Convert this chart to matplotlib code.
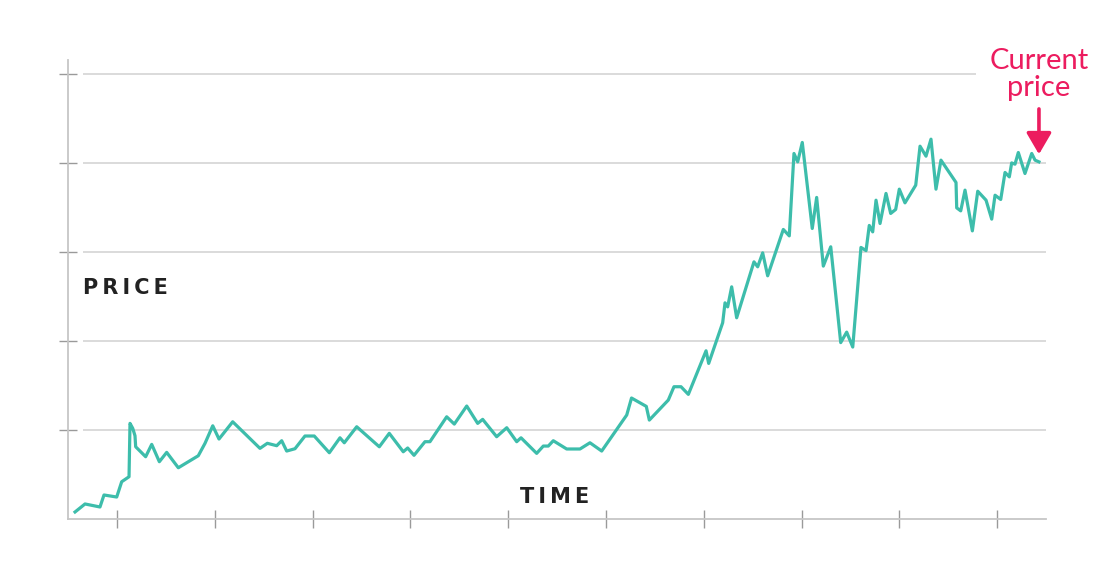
import matplotlib
matplotlib.use("Agg")
import matplotlib.pyplot as plt

# price history (time 0-100, price 0-50)
time = [0.72, 1.74, 3.27, 3.68, 4.98, 5.49, 6.24, 6.34, 6.62, 6.85, 6.92, 7.94, 8.56, 9.34,
        10.09, 11.28, 13.32, 14.01, 14.80, 15.44, 16.84, 19.63, 20.38, 21.34, 21.85, 22.36,
        23.21, 24.23, 25.18, 26.72, 27.81, 28.25, 29.52, 31.83, 32.85, 34.28, 34.73, 35.38,
        36.50, 37.01, 38.72, 39.50, 40.77, 41.89, 42.40, 43.83, 44.86, 45.88, 46.32, 47.92,
        48.60, 49.11, 49.62, 50.99, 52.35, 53.37, 54.57, 57.13, 57.62, 59.13, 59.44, 61.38,
        61.96, 62.68, 63.43, 65.24, 65.51, 66.94, 67.18, 67.45, 67.86, 68.37, 70.14, 70.52,
        71.03, 71.54, 73.14, 73.75, 74.23, 74.61, 75.08, 76.10, 76.55, 77.23, 77.99, 79.01,
        79.62, 80.24, 81.08, 81.60, 81.93, 82.28, 82.62, 83.03, 83.64, 84.12, 84.63, 85.00,
        85.58, 86.68, 87.12, 87.73, 88.24, 88.75, 89.26, 90.80, 90.87, 91.28, 91.72, 92.47,
        93.02, 93.87, 94.45, 94.79, 95.37, 95.81, 96.25, 96.49, 96.83, 97.17, 97.85, 98.54,
        98.88, 99.28]
price = [0.79, 1.69, 1.35, 2.70, 2.47, 4.19, 4.75, 10.75, 10.19, 9.36, 8.12, 7.00, 8.39, 6.44,
         7.49, 5.76, 7.11, 8.51, 10.48, 8.99, 10.93, 7.94, 8.51, 8.24, 8.80, 7.64,
         7.90, 9.33, 9.33, 7.45, 9.13, 8.57, 10.37, 8.12, 9.63, 7.56, 7.98, 7.16,
         8.69, 8.69, 11.49, 10.67, 12.70, 10.75, 11.20, 9.25, 10.26, 8.69, 9.13, 7.38,
         8.20, 8.20, 8.80, 7.87, 7.87, 8.57, 7.64, 11.69, 13.60, 12.66, 11.12, 13.37,
         14.87, 14.87, 14.01, 18.91, 17.49, 22.06, 24.30, 23.85, 26.10, 22.62, 28.91, 28.35,
         29.92, 27.34, 32.55, 31.83, 41.09, 40.15, 42.33, 32.66, 36.15, 28.43, 30.60, 19.83,
         21.01, 19.33, 30.53, 30.17, 33.00, 32.28, 35.84, 33.22, 36.60, 34.35, 34.80, 37.08,
         35.54, 37.53, 41.91, 40.79, 42.70, 37.08, 40.34, 37.83, 34.98, 34.64, 36.97, 32.39,
         36.85, 35.84, 33.71, 36.40, 35.92, 38.96, 38.46, 40.03, 39.89, 41.20, 38.84, 41.09,
         40.34, 40.15]

grid_levels = [10, 20, 30, 40, 50]
grid_ends = [100, 100, 100, 100, 92.8]
time_ticks = [5, 15, 25, 35, 45, 55, 65, 75, 85, 95]

line_color = "#3dbdab"
pink = "#ec1c5f"
thin = "\u2009"

fig = plt.figure(figsize=(11.2, 5.79), dpi=100)
ax = fig.add_axes([68 / 1120, 60 / 579, 978 / 1120, 459 / 579])
ax.set_xlim(0, 100)
ax.set_ylim(0, 51.6)

# grid lines start a little right of the axis
ax.hlines(grid_levels, 1.5, grid_ends, color="#d8d8d8", lw=1.3, zorder=1)

for side in ["top", "right"]:
    ax.spines[side].set_visible(False)
for side in ["left", "bottom"]:
    ax.spines[side].set_color("#c6c6c6")
    ax.spines[side].set_linewidth(1.3)

ax.set_yticks(grid_levels)
ax.set_xticks(time_ticks)
ax.tick_params(direction="inout", length=13.5, width=1.0, color="#9a9a9a",
               labelleft=False, labelbottom=False)

ax.plot(time, price, color=line_color, lw=2.3, zorder=3, clip_on=False)

ax.text(5.85, 25.96, thin.join("PRICE"), ha="center", va="center", fontsize=15,
        fontweight="bold", color="#222222")
ax.text(49.73, 2.47, thin.join("TIME"), ha="center", va="center", fontsize=15,
        fontweight="bold", color="#222222")

ax.annotate("", xy=(99.28, 41.0), xytext=(99.28, 46.1),
            arrowprops=dict(arrowstyle="-|>,head_length=0.65,head_width=0.38",
                            color=pink, lw=2.6, shrinkA=0, shrinkB=0,
                            mutation_scale=20))
ax.text(99.3, 50.0, "Current\nprice", ha="center", va="center", fontsize=21,
        family="Lato", fontweight="normal", color=pink, linespacing=1.05)

fig.savefig("out.png", dpi=100)
